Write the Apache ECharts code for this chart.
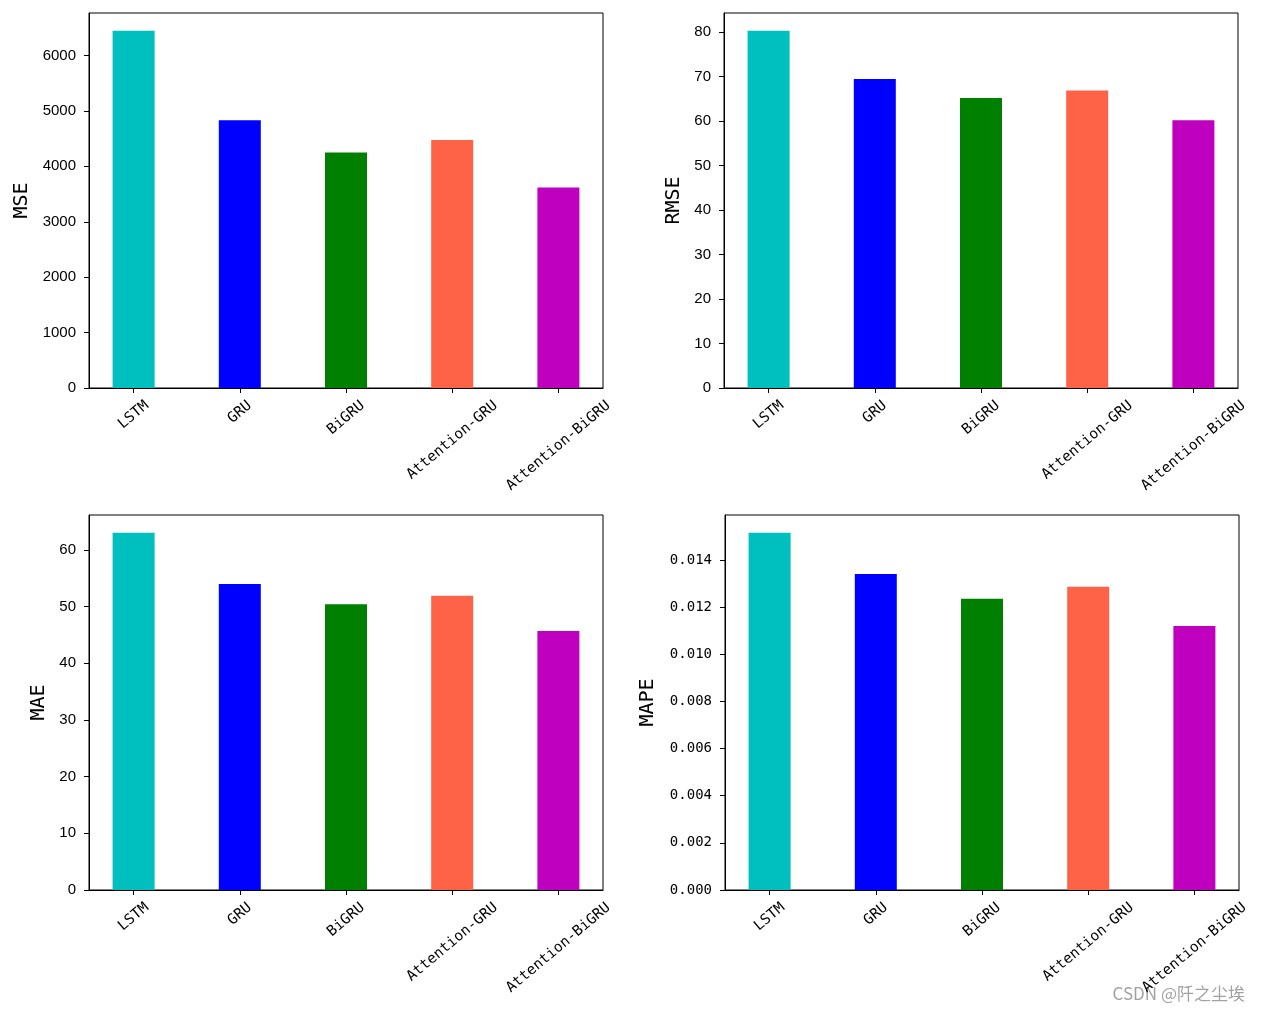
<!DOCTYPE html>
<html>
<head>
<meta charset="utf-8">
<script src="https://cdn.jsdelivr.net/npm/echarts@6/dist/echarts.min.js"></script>
<style>
  html, body { margin: 0; padding: 0; background: #fff; }
  #main { width: 1261px; height: 1011px; }
</style>
</head>
<body>
<div id="main"></div>
<script>
// models and colours
var models = ['LSTM', 'GRU', 'BiGRU', 'Attention-GRU', 'Attention-BiGRU'];
var barColors = ['#00bfbf', '#0000ff', '#008000', '#ff6347', '#bf00bf'];

// metric values
var mseValues = [6445, 4830, 4250, 4475, 3617];
var rmseValues = [80.3, 69.5, 65.2, 66.9, 60.2];
var maeValues = [63.0, 54.0, 50.4, 51.9, 45.7];
var mapeValues = [0.01515, 0.01341, 0.01235, 0.01286, 0.0112];

// tick labels
var mseTicks = [0, 1000, 2000, 3000, 4000, 5000, 6000];
var rmseTicks = [0, 10, 20, 30, 40, 50, 60, 70, 80];
var maeTicks = [0, 10, 20, 30, 40, 50, 60];
var mapeTicks = [0, 0.002, 0.004, 0.006, 0.008, 0.010, 0.012, 0.014];

(function() {
    var myChart = echarts.init(document.getElementById('main'));

    var MONO = '"DejaVu Sans Mono", monospace';
    var SANS = '"Liberation Sans", Arial, sans-serif';
    var NAMEFONT = '"Liberation Sans Narrow", "DejaVu Sans Mono", monospace';
    var ROT = 40, FS = 14.5;
    var C = Math.cos(ROT * Math.PI / 180), S = Math.sin(ROT * Math.PI / 180);
    var LH = 15, PAD = 10;

    // matplotlib centres the rotated label box under the tick, echarts rotates
    // around the anchor -> push each label down with padding
    var ctx = document.createElement('canvas').getContext('2d');
    ctx.font = FS + 'px ' + MONO;
    var rich = {};
    models.forEach(function(m, i) {
        var w = ctx.measureText(m).width;
        var H = w * S + LH * C;
        var dy = PAD + H / 2;
        rich['k' + i] = {
            fontFamily: MONO, fontSize: FS, lineHeight: LH, color: '#000',
            padding: [2 * dy * C, 2 * dy * S, 0, 0]
        };
    });

    var panels = [
        { name: 'MSE',  values: mseValues,  ticks: mseTicks,  left: 89,  top: 13,  gap: 57, font: SANS, size: 15 },
        { name: 'RMSE', values: rmseValues, ticks: rmseTicks, left: 724, top: 13,  gap: 40, font: SANS, size: 15 },
        { name: 'MAE',  values: maeValues,  ticks: maeTicks,  left: 89,  top: 515, gap: 40, font: SANS, size: 15 },
        { name: 'MAPE', values: mapeValues, ticks: mapeTicks, left: 725, top: 515, gap: 67, font: MONO, size: 14, fixed: 3 }
    ];

    function catAxis(i, labelAt, showLine) {
        return {
            type: 'value', gridIndex: i, min: -0.42, max: 4.42, position: 'bottom',
            splitLine: { show: false },
            axisLine: { show: showLine, onZero: false, lineStyle: { color: '#000', width: 1 } },
            axisTick: { show: showLine, customValues: [0, 1, 2, 3, 4], length: 5, lineStyle: { color: '#000' } },
            axisLabel: {
                customValues: labelAt,
                showMinLabel: true, showMaxLabel: true, hideOverlap: false,
                rotate: ROT, align: 'center', verticalAlign: 'middle', margin: 0,
                formatter: function(v) { return '{k' + v + '|' + models[v] + '}'; },
                rich: rich
            }
        };
    }

    var grids = [], xAxes = [], yAxes = [], series = [];
    panels.forEach(function(p, i) {
        grids.push({
            left: p.left, top: p.top, width: 514, height: 375,
            containLabel: false, outerBoundsMode: 'none',
            show: true, borderColor: '#000', borderWidth: 1, backgroundColor: 'transparent'
        });
        // labels split over two axes so neighbours never get hidden
        xAxes.push(catAxis(i, [0, 2, 4], true));
        xAxes.push(catAxis(i, [1, 3], false));
        yAxes.push({
            type: 'value', gridIndex: i, min: 0,
            max: function(e) { return e.max * 1.05; },
            name: p.name, nameLocation: 'middle', nameGap: p.gap,
            nameTextStyle: { fontFamily: NAMEFONT, fontSize: 20, color: '#000' },
            splitLine: { show: false },
            axisLine: { show: true, onZero: false, lineStyle: { color: '#000', width: 1 } },
            axisTick: { show: true, customValues: p.ticks, length: 5, lineStyle: { color: '#000' } },
            axisLabel: {
                customValues: p.ticks, margin: 13, color: '#000',
                showMinLabel: true, showMaxLabel: true,
                fontFamily: p.font, fontSize: p.size,
                formatter: function(v) { return p.fixed ? v.toFixed(p.fixed) : String(v); }
            }
        });
        series.push({
            type: 'bar', xAxisIndex: 2 * i, yAxisIndex: i, barWidth: 42,
            data: p.values.map(function(v, k) {
                return { value: [k, v], itemStyle: { color: barColors[k] } };
            })
        });
    });

    var option = {
        animation: false,
        backgroundColor: '#fff',
        grid: grids,
        xAxis: xAxes,
        yAxis: yAxes,
        series: series,
        graphic: [{
            type: 'text', right: 16, bottom: 9,
            style: { text: 'CSDN @阡之尘埃', fill: 'rgba(110,110,110,0.65)', fontSize: 17,
                     fontFamily: '"Noto Sans CJK SC", sans-serif' }
        }]
    };

    myChart.setOption(option);
    window.addEventListener('resize', function() {
        myChart.resize();
    });
})();
</script>
</body>
</html>
